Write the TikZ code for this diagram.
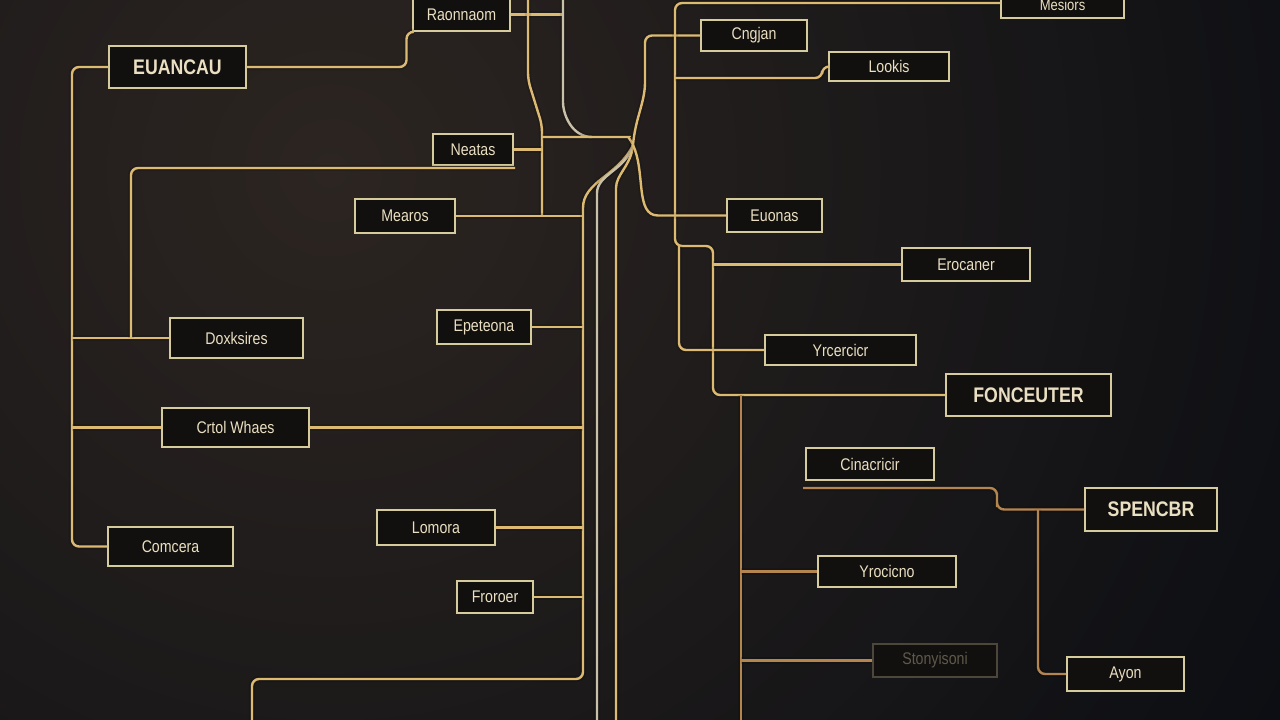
\documentclass[tikz,border=0pt]{standalone}
\usepackage{fontspec}
\usepackage{tikz}
\newfontfamily\tagfont[FakeStretch=0.84]{Liberation Sans}
\definecolor{gold}{HTML}{DDBA72}
\definecolor{copper}{HTML}{B5854F}
\definecolor{silver}{HTML}{C9C0AA}
\definecolor{rim}{HTML}{D6CB9C}
\definecolor{ink}{HTML}{EADFC2}
\definecolor{boxbg}{HTML}{12100E}
\definecolor{bgA}{HTML}{2C2521}
\definecolor{bgB}{HTML}{0C0E13}
\definecolor{dimrim}{HTML}{4D473B}
\definecolor{dimink}{HTML}{5F594B}
\newlength\pix
\setlength\pix{0.025cm}
\tikzstyle{tag}=[draw=rim, fill=boxbg, line width=1.2pt, text=ink, inner sep=0pt, font=\tagfont\fontsize{12}{14}\selectfont]
\tikzstyle{bigtag}=[tag, font=\tagfont\bfseries\fontsize{15}{17}\selectfont]
\tikzstyle{wire}=[draw=gold, line width=1.7pt, rounded corners=5pt, preaction={draw, line width=4.5pt, opacity=0.12}]
\tikzstyle{bronze}=[wire, draw=copper]
\tikzstyle{pale}=[wire, draw=silver]

\begin{document}
\begin{tikzpicture}[x=0.025cm, y=-0.025cm]
                                        \useasboundingbox (0,0) rectangle (1280,720);
                                        \clip (0,0) rectangle (1280,720);
                                        \fill[bgB] (0,0) rectangle (1280,720);
                                        \shade[inner color=bgA, outer color=bgB] (330,170) circle (1100);
                                        
                                        \node[tag, minimum width=97*\pix, minimum height=33*\pix] (raon) at (461.5,14.5) {Raonnaom};
                                        \node[bigtag, minimum width=137*\pix, minimum height=42*\pix] (euan) at (177.5,67) {EUANCAU};
                                        \node[tag, minimum width=80*\pix, minimum height=31*\pix] (neat) at (473,149.5) {Neatas};
                                        \node[tag, minimum width=100*\pix, minimum height=34*\pix] (mear) at (405,216) {Mearos};
                                        \node[tag, minimum width=133*\pix, minimum height=40*\pix] (doxk) at (236.5,338) {Doxksires};
                                        \node[tag, minimum width=94*\pix, minimum height=34*\pix] (epet) at (484,327) {Epeteona};
                                        \node[tag, minimum width=147*\pix, minimum height=39*\pix] (crto) at (235.5,427.5) {Crtol Whaes};
                                        \node[tag, minimum width=125*\pix, minimum height=39*\pix] (comc) at (170.5,546.5) {Comcera};
                                        \node[tag, minimum width=118*\pix, minimum height=35*\pix] (lomo) at (436,527.5) {Lomora};
                                        \node[tag, minimum width=76*\pix, minimum height=32*\pix] (fror) at (495,597) {Froroer};
                                        
                                        \node[tag, font=\tagfont\fontsize{11}{13}\selectfont, minimum width=123*\pix, minimum height=26*\pix] (mesi) at (1062.5,5) {Mesiors};
                                        \node[tag, minimum width=106*\pix, minimum height=31*\pix] (cngj) at (754,35.5) {Cngjan};
                                        \node[tag, minimum width=120*\pix, minimum height=29*\pix] (look) at (889,66.5) {Lookis};
                                        \node[tag, minimum width=95*\pix, minimum height=33*\pix] (euon) at (774.5,215.5) {Euonas};
                                        \node[tag, minimum width=128*\pix, minimum height=33*\pix] (eroc) at (966,264.5) {Erocaner};
                                        \node[tag, minimum width=151*\pix, minimum height=30*\pix] (yrce) at (840.5,350) {Yrcercicr};
                                        \node[bigtag, minimum width=165*\pix, minimum height=42*\pix] (fonc) at (1028.5,395) {FONCEUTER};
                                        \node[tag, minimum width=128*\pix, minimum height=32*\pix] (cina) at (870,464) {Cinacricir};
                                        \node[bigtag, minimum width=132*\pix, minimum height=43*\pix] (spen) at (1151,509.5) {SPENCBR};
                                        \node[tag, minimum width=138*\pix, minimum height=31*\pix] (yroc) at (887,571.5) {Yrocicno};
                                        \node[tag, draw=dimrim, text=dimink, minimum width=124*\pix, minimum height=33*\pix] (ston) at (935,660.5) {Stonyisoni};
                                        \node[tag, minimum width=117*\pix, minimum height=34*\pix] (ayon) at (1125.5,674) {Ayon};
                                        
                                        \coordinate (K) at (633,145);
                                        \coordinate (atop) at (528,0);
                                        \coordinate (btop) at (563,0);
                                        \coordinate (nend) at (515,168);
                                        \coordinate (gbot) at (252,725);
                                        \coordinate (hbot) at (597,725);
                                        \coordinate (ibot) at (616,725);
                                        \coordinate (sbot) at (741,725);
                                        \coordinate (cu) at (803,488);
                                        \coordinate (dl) at (675,78);
                                        \coordinate (yd) at (679,246);
                                        \coordinate (lv) at (72,0);
                                        \coordinate (lw) at (131,0);
                                        \coordinate (xa) at (542,0);
                                        \coordinate (xg) at (583,0);
                                        \coordinate (xe) at (713,0);
                                        \coordinate (xs) at (741,0);
                                        \coordinate (xt) at (1038,0);
                                        
                                        \draw[wire] (euan.west) -| (72,300) |- (comc.west);
                                        \draw[wire] (doxk.west) -- (doxk.west -| lv);
                                        \draw[wire] (crto.west) -- (crto.west -| lv);
                                        \draw[wire] (doxk.west -| lw) |- (nend);
                                        \draw[wire] (euan.east) -| ([xshift=-4pt]raon.south west) -- (raon.south west);
                                        \draw[wire] (raon.east) -- (raon.east -| btop);
                                        
                                        \draw[wire] (atop) -- (528,80) -- (542,125) -- (mear.east -| xa);
                                        \draw[pale] (btop) -- (563,95) to[out=-90,in=180] (592,137);
                                        \draw[wire] (542,137) -- (622,137) to[out=0,in=110] (K);
                                        \draw[wire] (neat.east) -- (neat.east -| xa);
                                        \draw[wire] (mear.east) -- (mear.east -| xg);
                                        
                                        \draw[wire] (K) to[out=-115,in=90] (583,215) -- (583,679) -- (252,679) -- (gbot);
                                        \draw[pale] (K) to[out=-105,in=90] (597,200) -- (hbot);
                                        \draw[wire] (K) to[out=-95,in=90] (616,195) -- (ibot);
                                        \draw[wire] (epet.east) -- (epet.east -| xg);
                                        \draw[wire] (crto.east) -- (crto.east -| xg);
                                        \draw[wire] (lomo.east) -- (lomo.east -| xg);
                                        \draw[wire] (fror.east) -- (fror.east -| xg);
                                        
                                        \draw[wire] (K) to[out=85,in=-90] (645,75) |- (cngj.west);
                                        \draw[wire] ([yshift=1.4pt]mesi.west) -| (675,246) -| (713,395) -- (fonc.west);
                                        \draw[wire] (look.west) -- ++(-6,0) |- (dl);
                                        \draw[wire] (K) to[out=-65,in=180] (665,215.5) -- (euon.west);
                                        \draw[wire] (yd) |- (yrce.west);
                                        \draw[wire] (eroc.west) -- (eroc.west -| xe);
                                        
                                        \draw[bronze] (fonc.west -| xs) -- (sbot);
                                        \draw[bronze] (yroc.west) -- (yroc.west -| xs);
                                        \draw[bronze] (ston.west) -- (ston.west -| xs);
                                        \draw[bronze] (cu) -| (997,500) |- (spen.west);
                                        \draw[bronze] (spen.west -| xt) |- (ayon.west);
                                    \end{tikzpicture}
\end{document}
